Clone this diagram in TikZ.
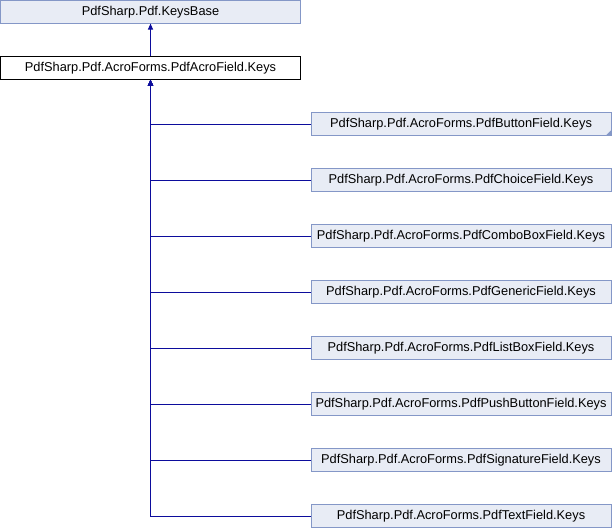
\documentclass[tikz,border=0pt]{standalone}
\usepackage{fontspec}
\setmainfont{Liberation Sans}
\usetikzlibrary{arrows.meta}
\definecolor{boxfill}{HTML}{E8ECF5}
\definecolor{boxline}{HTML}{8497C7}
\definecolor{edgecol}{HTML}{0C0C9C}
\begin{document}
\begin{tikzpicture}[x=1pt,y=-1pt,
  cls/.style={draw=boxline,fill=boxfill,line width=1pt,minimum width=300pt,minimum height=22.5pt,inner sep=0pt,font=\fontsize{12.8}{14}\selectfont},
  focus/.style={cls,draw=black,fill=white},
  edge/.style={draw=edgecol,line width=1pt,-{Triangle[length=6pt,width=5pt]}}]
\useasboundingbox (0,0) rectangle (612,528);
\node[cls]   (base) at (150.5,11.8) {PdfSharp.Pdf.KeysBase};
\node[focus] (acro) at (150.5,68) {PdfSharp.Pdf.AcroForms.PdfAcroField.Keys};
\node[cls] (c1) at (461,124) {PdfSharp.Pdf.AcroForms.PdfButtonField.Keys};
\node[cls] (c2) at (461,180) {PdfSharp.Pdf.AcroForms.PdfChoiceField.Keys};
\node[cls] (c3) at (461,236) {PdfSharp.Pdf.AcroForms.PdfComboBoxField.Keys};
\node[cls] (c4) at (461,292) {PdfSharp.Pdf.AcroForms.PdfGenericField.Keys};
\node[cls] (c5) at (461,348) {PdfSharp.Pdf.AcroForms.PdfListBoxField.Keys};
\node[cls] (c6) at (461,404) {PdfSharp.Pdf.AcroForms.PdfPushButtonField.Keys};
\node[cls] (c7) at (461,460) {PdfSharp.Pdf.AcroForms.PdfSignatureField.Keys};
\node[cls] (c8) at (461,516) {PdfSharp.Pdf.AcroForms.PdfTextField.Keys};
\fill[boxline] (c1.south east) -- ++(0,-6) -- ++(-6,6) -- cycle;
\draw[edge] (acro.north) -- (base.south);
\foreach \c in {c1,c2,c3,c4,c5,c6,c7,c8}{
  \draw[edge] (\c.west) -| (acro.south);
}
\end{tikzpicture}
\end{document}
